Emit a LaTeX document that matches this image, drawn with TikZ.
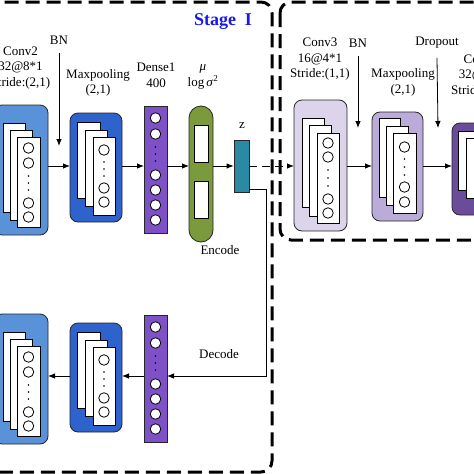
\documentclass[tikz,border=0pt]{standalone}
\usepackage{fontspec}
\setmainfont{Liberation Serif}
\usetikzlibrary{arrows.meta,calc}
\definecolor{cblue}{HTML}{5A92DA}
\definecolor{mblue}{HTML}{2E62CC}
\definecolor{dpurple}{HTML}{7E52C6}
\definecolor{ggreen}{HTML}{7B9A3C}
\definecolor{zteal}{HTML}{2B8AA3}
\definecolor{lav}{HTML}{DCD4EA}
\definecolor{lavm}{HTML}{BBABD8}
\definecolor{purd}{HTML}{6B4C9A}
\definecolor{stageblue}{HTML}{1A1AE6}
\tikzset{
  blk/.style={draw=black!85, line width=0.8pt, rounded corners=8pt, inner sep=0pt, outer sep=0pt},
  sheet/.style={draw=black, fill=white, line width=0.7pt, inner sep=0pt, outer sep=0pt, minimum width=22pt},
  neur/.style={circle, draw=black, fill=white, line width=0.8pt, inner sep=0pt, minimum size=10.5pt},
  dotn/.style={circle, fill=black, inner sep=0pt, minimum size=1.8pt},
  lbl/.style={font=\fontsize{13}{15.5}\selectfont, align=center, inner sep=0pt},
  arr/.style={-{Latex[length=7pt,width=5.5pt]}, line width=0.8pt},
  stagebox/.style={draw=black, line width=3pt, dash pattern=on 14pt off 7pt, rounded corners=11pt}
}
\begin{document}
\begin{tikzpicture}[x=1pt,y=-1pt]
\useasboundingbox (0,0) rectangle (474,474);
\clip (0,0) rectangle (474,474);

% ---------- stage boxes ----------
\draw[stagebox] (-30,2) rectangle (272,472);
\draw[stagebox] (280,2) rectangle (540,240);
\node[font=\fontsize{18}{20}\selectfont\bfseries, text=stageblue] (stage1) at (223,22) {Stage\ \ I};

% ---------- top row, stage I ----------
\coordinate (row1) at (0,166);
\coordinate (row2) at (0,376);

% Conv2
\node[blk, fill=cblue, minimum width=54pt, minimum height=130pt] (c2) at (21,170) {};
\node[sheet, minimum height=89pt] (c2s1) at (14,167.5) {};
\node[sheet, minimum height=90pt] (c2s2) at (21,175) {};
\node[sheet, minimum height=90pt, minimum width=23pt] (c2s3) at (28.5,182) {};
\foreach \y [count=\i] in {148,163,203,217} \node[neur] (c2n\i) at (28.5,\y) {};
\foreach \y [count=\i] in {176,183,190} \node[dotn] (c2d\i) at (28.5,\y) {};
\node[lbl] (c2l) at (20.5,68) {Conv2\\32@8*1\\Stride:(2,1)};

% BN arrow
\node[lbl] (bn1) at (59,40) {BN};
\coordinate (bn1e) at (59,146);
\draw[arr] ([yshift=-9pt]bn1.south) -- (bn1e);

% Maxpooling
\node[blk, fill=mblue, minimum width=52pt, minimum height=109pt] (m1) at (96,167.5) {};
\node[sheet, minimum height=76pt, minimum width=23pt] (m1s1) at (88.5,160) {};
\node[sheet, minimum height=76pt] (m1s2) at (96,168) {};
\node[sheet, minimum height=78pt] (m1s3) at (104,176) {};
\foreach \y [count=\i] in {150,188,202} \node[neur] (m1n\i) at (104,\y) {};
\foreach \y [count=\i] in {162,169,176} \node[dotn] (m1d\i) at (104,\y) {};
\node[lbl] (m1l) at (98,83) {Maxpooling\\(2,1)};

% Dense1
\node[blk, rounded corners=0pt, fill=dpurple, minimum width=23pt, minimum height=127pt] (d1) at (155.5,169.5) {};
\foreach \y [count=\i] in {118,134,175,190,205,220} \node[neur] (d1n\i) at (155.5,\y) {};
\foreach \y [count=\i] in {147,154,161} \node[dotn] (d1d\i) at (155.5,\y) {};
\node[lbl] (d1l) at (156,75.5) {Dense1\\400};

% mu / log sigma
\node[blk, rounded corners=12pt, fill=ggreen, minimum width=24pt, minimum height=136pt] (g) at (201,174) {};
\node[sheet, minimum width=14pt, minimum height=37pt] (g1) at (201,143.5) {};
\node[sheet, minimum width=14pt, minimum height=37pt] (g2) at (201,199.5) {};
\node[lbl] (gl) at (203,77) {\textit{μ}\\log\,\textit{σ}\textsuperscript{2}};

% z
\node[draw=black!85, line width=0.8pt, fill=zteal, minimum width=15pt, minimum height=52pt, inner sep=0pt] (z) at (241.5,166) {};
\node[lbl] (zl) at (242,126) {z};

\node[lbl] (enc) at (220,250) {Encode};
\node[lbl] (dec) at (219,354) {Decode};

% arrows top row
\draw[arr] (c2.east |- row1) -- (m1.west |- row1);
\draw[arr] (m1.east |- row1) -- (d1.west |- row1);
\draw[arr] (d1.east |- row1) -- (g.west |- row1);
\draw[arr] (g.east |- row1) -- (z.west |- row1);

% ---------- bottom row ----------
\node[blk, fill=cblue, minimum width=54pt, minimum height=130pt] (c2b) at (21,379) {};
\node[sheet, minimum height=89pt] (c2bs1) at (14,376.5) {};
\node[sheet, minimum height=90pt] (c2bs2) at (21,384) {};
\node[sheet, minimum height=90pt, minimum width=23pt] (c2bs3) at (28.5,391) {};
\foreach \y [count=\i] in {357,372,412,426} \node[neur] (c2bn\i) at (28.5,\y) {};
\foreach \y [count=\i] in {385,392,399} \node[dotn] (c2bd\i) at (28.5,\y) {};

\node[blk, fill=mblue, minimum width=52pt, minimum height=109pt] (m2) at (96,377.5) {};
\node[sheet, minimum height=76pt, minimum width=23pt] (m2s1) at (88.5,370) {};
\node[sheet, minimum height=76pt] (m2s2) at (96,378) {};
\node[sheet, minimum height=78pt] (m2s3) at (104,386) {};
\foreach \y [count=\i] in {360,398,412} \node[neur] (m2n\i) at (104,\y) {};
\foreach \y [count=\i] in {372,379,386} \node[dotn] (m2d\i) at (104,\y) {};

\node[blk, rounded corners=0pt, fill=dpurple, minimum width=23pt, minimum height=127pt] (d2) at (155.5,378.5) {};
\foreach \y [count=\i] in {327,343,384,399,414,429} \node[neur] (d2n\i) at (155.5,\y) {};
\foreach \y [count=\i] in {356,363,370} \node[dotn] (d2d\i) at (155.5,\y) {};

\draw[arr] (d2.west |- row2) -- (m2.east |- row2);
\draw[arr] (m2.west |- row2) -- (c2b.east |- row2);

% z -> decode
\coordinate (zout) at (249,189);
\coordinate (turn) at (266,376);
\draw[arr] (z.east |- zout) -| (turn) -- (d2.east |- turn);

% ---------- stage II ----------
\node[blk, fill=lav, minimum width=53pt, minimum height=131pt] (c3) at (320.5,165.5) {};
\node[sheet, minimum height=89pt] (c3s1) at (313,162.5) {};
\node[sheet, minimum height=91pt] (c3s2) at (320,170.5) {};
\node[sheet, minimum height=90pt] (c3s3) at (328,178) {};
\foreach \y [count=\i] in {143,157,199,213} \node[neur] (c3n\i) at (328,\y) {};
\foreach \y [count=\i] in {170,178,186} \node[dotn] (c3d\i) at (328,\y) {};
\node[lbl] (c3l) at (320,59.5) {Conv3\\16@4*1\\Stride:(1,1)};

\node[lbl] (bn2) at (358,43) {BN};
\coordinate (bn2e) at (358,128);
\draw[arr] ([yshift=-9pt]bn2.south) -- (bn2e);

\node[blk, fill=lavm, minimum width=51pt, minimum height=109pt] (m3) at (397.5,166.5) {};
\node[sheet, minimum height=79pt, minimum width=21pt] (m3s1) at (389.5,157.5) {};
\node[sheet, minimum height=79pt] (m3s2) at (397,165.5) {};
\node[sheet, minimum height=80pt, minimum width=23pt] (m3s3) at (404.5,173) {};
\foreach \y [count=\i] in {147,187,202} \node[neur] (m3n\i) at (404.5,\y) {};
\foreach \y [count=\i] in {159,167,175} \node[dotn] (m3d\i) at (404.5,\y) {};
\node[lbl] (m3l) at (403,82.5) {Maxpooling\\(2,1)};

\node[lbl] (drop) at (437,43) {Dropout};
\coordinate (drope) at (438,128);
\draw[arr] ([yshift=-9pt]drop.south) -- (drope);

\node[blk, fill=purd, minimum width=58pt, minimum height=92pt] (c4) at (481,169) {};
\node[sheet, minimum height=59pt] (c4s1) at (469.5,160.5) {};
\node[sheet, minimum height=60pt] (c4s2) at (477,168) {};
\node[sheet, minimum height=60pt] (c4s3) at (485,175) {};
\node[lbl] (c4l) at (481,76) {Conv4\\32@4*1\\Stride:(1,1)};

\draw[arr, dash pattern=on 8pt off 5pt] (z.east |- row1) -- (c3.west |- row1);
\draw[arr] (c3.east |- row1) -- (m3.west |- row1);
\draw[arr] (m3.east |- row1) -- (c4.west |- row1);
\end{tikzpicture}
\end{document}
